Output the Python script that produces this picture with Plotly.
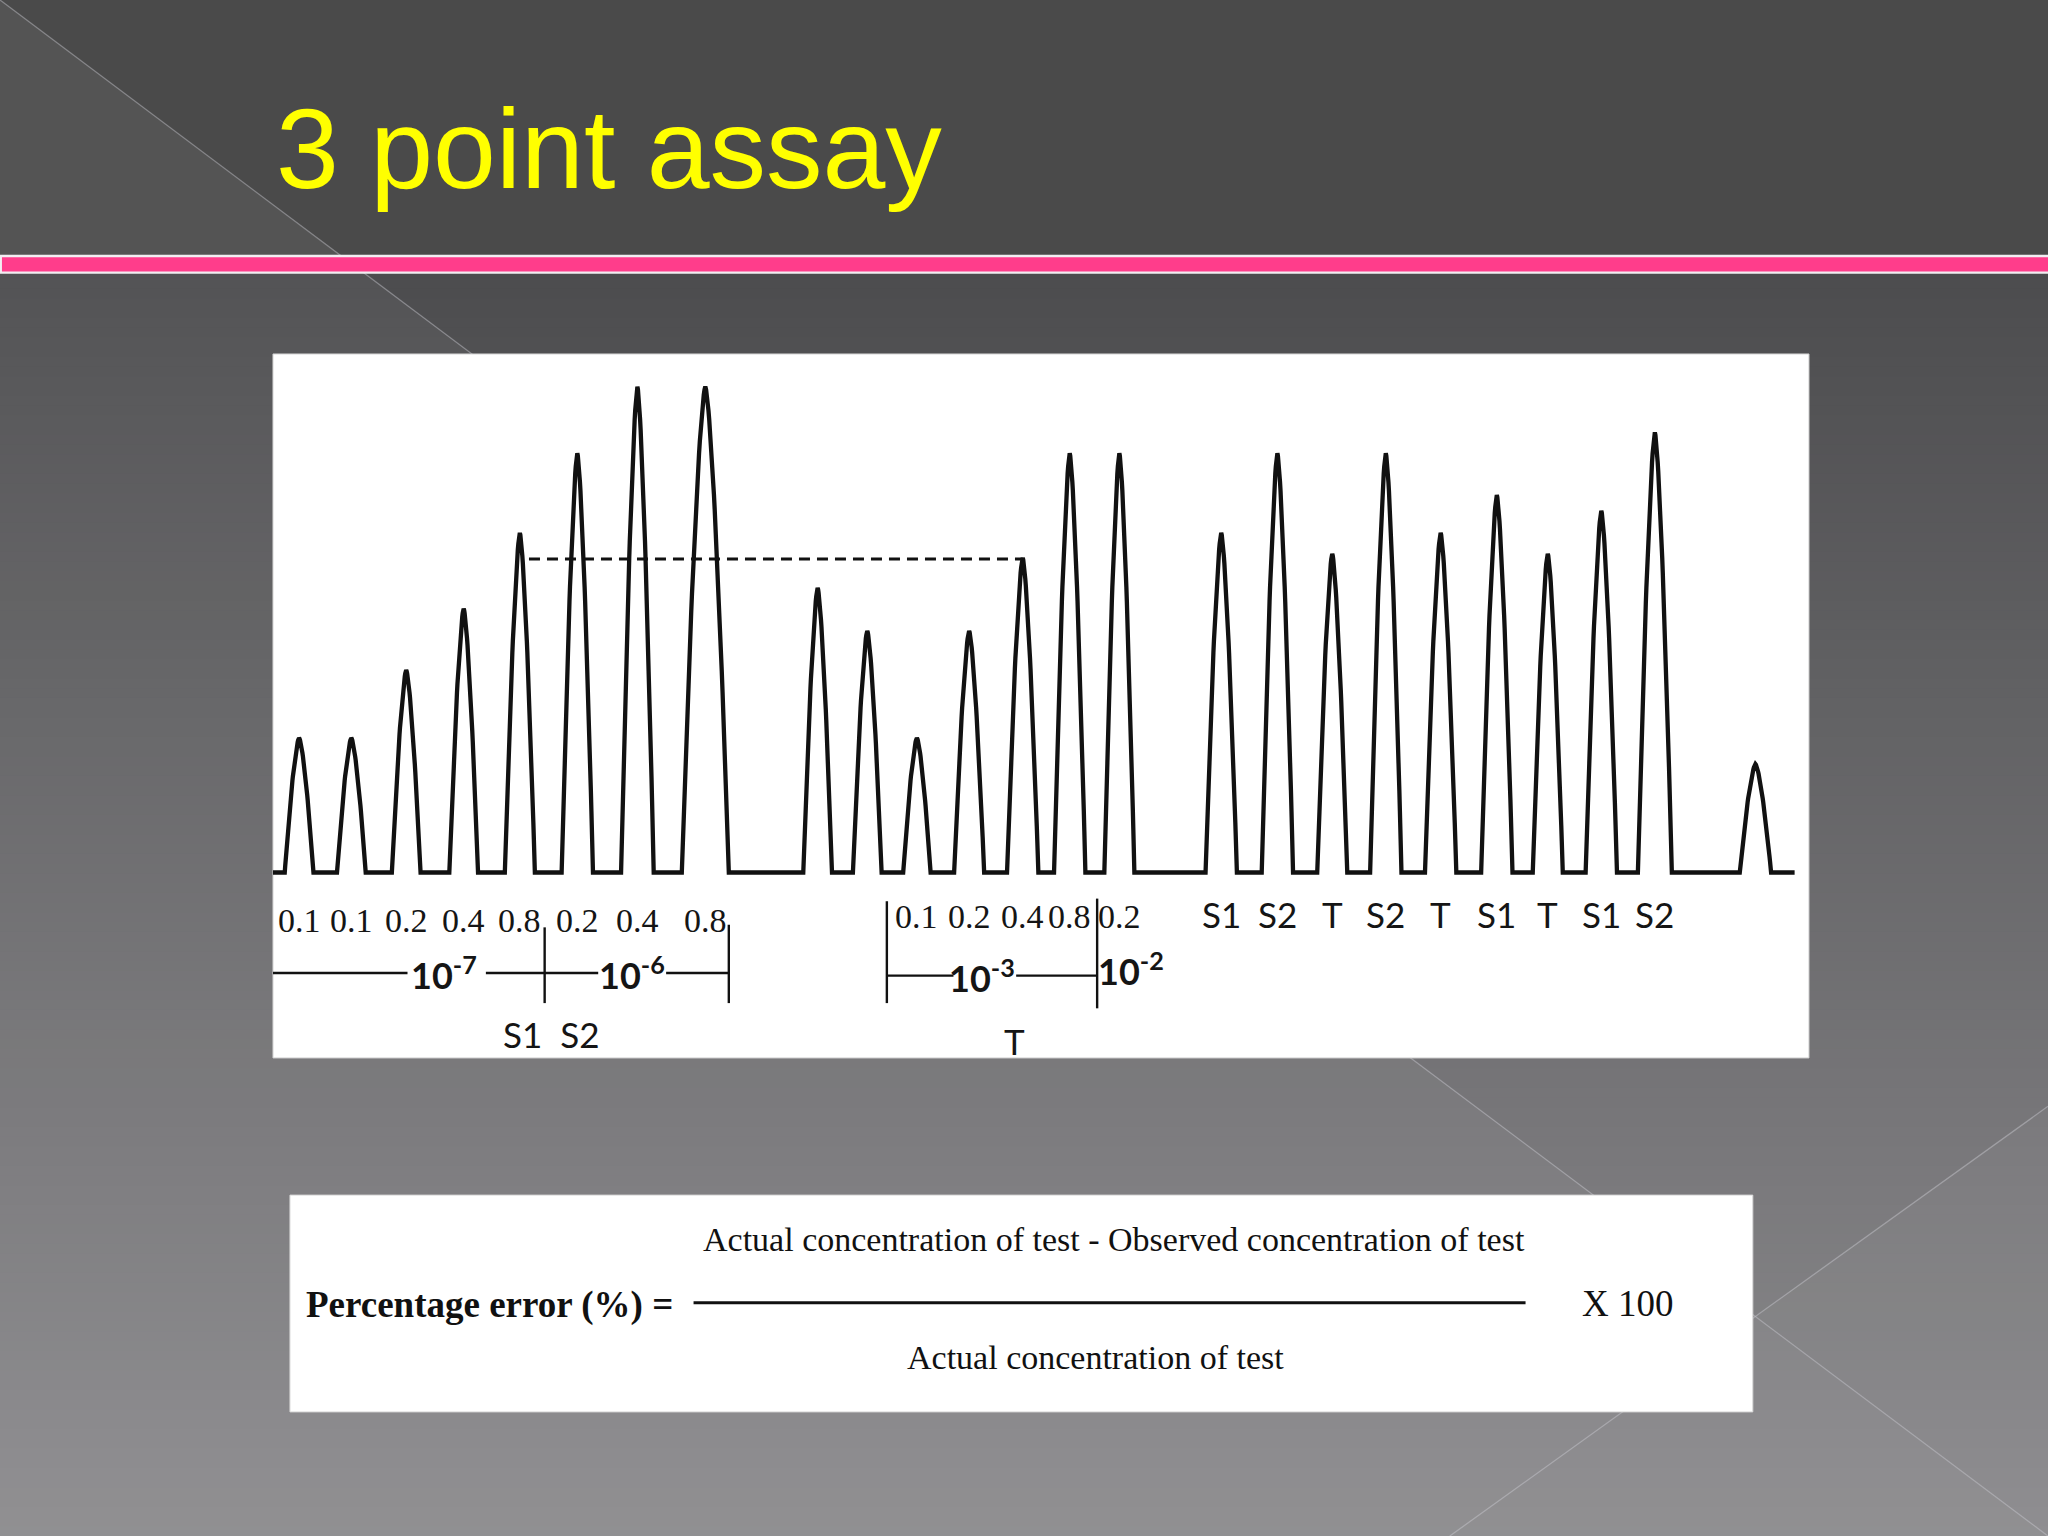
import numpy as np
import plotly.graph_objects as go

W, H = 2048, 1536
VW, VH = 1568.0, 1176.0          # layout grid the slide was measured on

# ---------------- data ----------------
peak_pos = [229, 269, 311, 355, 398, 442, 488, 540,
            626, 664, 702, 742, 783, 819, 857,
            935, 978, 1020, 1061, 1103, 1146, 1185, 1226, 1267, 1344]
peak_height = [103, 103, 155, 202, 260, 321, 372, 372,
               218, 185, 103, 185, 241, 321, 321,
               260, 321, 244, 321, 260, 289, 244, 277, 337, 83]
peak_halfwidth = [11, 11, 11, 11, 11.5, 12, 12.5, 18,
                  11, 11, 10.5, 11.5, 12, 12, 11.5,
                  12, 12, 11.5, 12, 12, 12, 11.5, 12, 13, 12]
peak_labels = ["0.1", "0.1", "0.2", "0.4", "0.8", "0.2", "0.4", "0.8",
               "", "", "0.1", "0.2", "0.4", "0.8", "0.2",
               "S1", "S2", "T", "S2", "T", "S1", "T", "S1", "S2", ""]
trace_start, trace_end = 209, 1374
ref_level, ref_from, ref_to = 240, 405, 783
decade_labels = ["10<sup>-7</sup>", "10<sup>-6</sup>", "10<sup>-3</sup>", "10<sup>-2</sup>"]
decade_pos = [340, 484, 752, 866]
role_labels = ["S1  S2", "T"]
role_pos = [422, 777]

title_text = "3 point assay"
numerator = "Actual concentration of test - Observed concentration of test"
denominator = "Actual concentration of test"
lhs = "Percentage error (%) ="
factor = "X 100"


# ---------------- helpers ----------------
def px(x):
    return x / VW


def py(y):
    return 1 - y / VH


def peak_shape(c, h, hw, n=61):
    u = np.linspace(-1, 1, n)
    p = 1.5
    f = 1 - np.abs(u) ** p
    return c + u * hw, h * f


xs, ys = [trace_start], [0.0]
for c, h, hw in zip(peak_pos, peak_height, peak_halfwidth):
    x_, y_ = peak_shape(c, h, hw)
    xs.extend(x_.tolist())
    ys.extend(y_.tolist())
xs.append(trace_end)
ys.append(0.0)

fig = go.Figure()
fig.add_trace(go.Scatter(x=xs, y=ys, mode="lines",
                         line=dict(color="#111111", width=4.3),
                         hoverinfo="skip", cliponaxis=False))
fig.add_trace(go.Scatter(x=[ref_from, ref_to], y=[ref_level, ref_level], mode="lines",
                         line=dict(color="#111111", width=3.2, dash="11px,7px"),
                         hoverinfo="skip"))

shapes = []

# background: top band
shapes.append(dict(type="rect", xref="paper", yref="paper", x0=0, x1=1, y0=py(196), y1=1,
                   fillcolor="#4a4a4a", line=dict(width=0), layer="below"))
shapes.append(dict(type="path", xref="paper", yref="paper",
                   path=f"M {px(0)},{py(0)} L {px(261)},{py(196)} L {px(0)},{py(196)} Z",
                   fillcolor="#545454", line=dict(width=0), layer="below"))
# background: gradient below the bar
c0 = np.array([0x4c, 0x4c, 0x4e], float)
c1 = np.array([0x8c, 0x8b, 0x8e], float)
y0b, y1b = 206.0, 1176.0
nb = 130
for i in range(nb):
    ya = y0b + (y1b - y0b) * i / nb
    yb = y0b + (y1b - y0b) * (i + 1) / nb + 0.6
    t = (i + 0.5) / nb
    c = (c0 + (c1 - c0) * t).round().astype(int)
    shapes.append(dict(type="rect", xref="paper", yref="paper", x0=0, x1=1,
                       y0=py(min(yb, VH)), y1=py(ya),
                       fillcolor=f"rgb({c[0]},{c[1]},{c[2]})", line=dict(width=0), layer="below"))
# facets
shapes.append(dict(type="path", xref="paper", yref="paper",
                   path=(f"M {px(0)},{py(206)} L {px(206/0.75)},{py(206)} "
                         f"L {px(1568)},{py(1176)} L {px(0)},{py(1176)} Z"),
                   fillcolor="rgba(255,255,255,0.045)", line=dict(width=0), layer="below"))
shapes.append(dict(type="path", xref="paper", yref="paper",
                   path=f"M {px(1344)},{py(1008)} L {px(1568)},{py(847)} L {px(1568)},{py(1176)} Z",
                   fillcolor="rgba(255,255,255,0.03)", line=dict(width=0), layer="below"))
for (xa, ya, xb, yb) in [(0, 0, 1568, 1176), (1568, 847, 1110, 1176)]:
    shapes.append(dict(type="line", xref="paper", yref="paper",
                       x0=px(xa), y0=py(ya), x1=px(xb), y1=py(yb),
                       line=dict(color="rgba(205,205,210,0.45)", width=1.3), layer="below"))
# pink bar
shapes.append(dict(type="rect", xref="paper", yref="paper", x0=0, x1=1, y0=py(209.5), y1=py(195),
                   fillcolor="#f2eef2", line=dict(width=0), layer="below"))
shapes.append(dict(type="rect", xref="paper", yref="paper", x0=px(1.5), x1=1, y0=py(207.8), y1=py(197),
                   fillcolor="#ff3d8b", line=dict(width=0), layer="below"))
# white panels
shapes.append(dict(type="rect", xref="paper", yref="paper", x0=px(209), x1=px(1385), y0=py(810), y1=py(271),
                   fillcolor="#ffffff", line=dict(color="#d0d0d0", width=1), layer="below"))
shapes.append(dict(type="rect", xref="paper", yref="paper", x0=px(222), x1=px(1342), y0=py(1081), y1=py(915),
                   fillcolor="#ffffff", line=dict(color="#d8d8d8", width=1), layer="below"))
# fraction bar
shapes.append(dict(type="line", xref="paper", yref="paper", x0=px(531), x1=px(1168), y0=py(997.5), y1=py(997.5),
                   line=dict(color="#111111", width=3)))


# bracket lines under the chart (data coordinates)
def hseg(a, b, yv):
    shapes.append(dict(type="line", xref="x", yref="y", x0=a, x1=b, y0=yv, y1=yv,
                       line=dict(color="#111111", width=2.4)))


def vseg(xv, a, b):
    shapes.append(dict(type="line", xref="x", yref="y", x0=xv, x1=xv, y0=a, y1=b,
                       line=dict(color="#111111", width=2.4)))


hseg(209, 312, -77); hseg(372, 458, -77); hseg(510, 558, -77)
vseg(417, -42, -100); vseg(558, -40, -100)
hseg(679, 730, -79); hseg(778, 840, -79)
vseg(679, -22, -100); vseg(840, -20, -104)

ann = []
# title
ann.append(dict(text=title_text, xref="paper", yref="paper", x=px(210), y=py(114),
                xanchor="left", yanchor="middle", showarrow=False,
                font=dict(family="Liberation Sans, Arial, sans-serif", size=113, color="#ffff00")))
# peak labels
for c, lab in zip(peak_pos, peak_labels):
    if not lab:
        continue
    if lab.startswith("0"):
        yv = -37 if c < 600 else -34
        f = dict(family="Liberation Serif, Times New Roman, serif", size=34, color="#151515")
    else:
        yv = -32
        f = dict(family="Lato, Calibri, sans-serif", size=35, color="#151515")
    ann.append(dict(text=lab, xref="x", yref="y", x=c, y=yv, showarrow=False,
                    xanchor="center", yanchor="middle", font=f))
for i, (lab, xv) in enumerate(zip(decade_labels, decade_pos)):
    yv = -74 if i == 3 else (-79 if i == 2 else -77)
    ann.append(dict(text=lab, xref="x", yref="y", x=xv, y=yv, showarrow=False,
                    xanchor="center", yanchor="middle",
                    font=dict(family="Lato, Calibri, sans-serif", size=36, color="#151515", weight="bold")))
for lab, xv, yv in zip(role_labels, role_pos, [-124, -129]):
    ann.append(dict(text=lab, xref="x", yref="y", x=xv, y=yv, showarrow=False,
                    xanchor="center", yanchor="middle",
                    font=dict(family="Lato, Calibri, sans-serif", size=35, color="#151515")))
# formula
serif = "Liberation Serif, Times New Roman, serif"
ann.append(dict(text=numerator, xref="paper", yref="paper", x=px(853), y=py(949), showarrow=False,
                xanchor="center", yanchor="middle", font=dict(family=serif, size=34, color="#111111")))
ann.append(dict(text=denominator, xref="paper", yref="paper", x=px(839), y=py(1039), showarrow=False,
                xanchor="center", yanchor="middle", font=dict(family=serif, size=34, color="#111111")))
ann.append(dict(text="<b>" + lhs + "</b>", xref="paper", yref="paper", x=px(233), y=py(999), showarrow=False,
                xanchor="left", yanchor="middle", font=dict(family=serif, size=37, color="#111111")))
ann.append(dict(text=factor, xref="paper", yref="paper", x=px(1210), y=py(998), showarrow=False,
                xanchor="left", yanchor="middle", font=dict(family=serif, size=37, color="#111111")))

fig.update_layout(
    width=W, height=H, margin=dict(l=0, r=0, t=0, b=0),
    paper_bgcolor="#4a4a4a", plot_bgcolor="rgba(0,0,0,0)",
    showlegend=False, shapes=shapes, annotations=ann,
    xaxis=dict(domain=[px(209), px(1385)], range=[209, 1385], visible=False, fixedrange=True),
    yaxis=dict(domain=[py(810), py(271)], range=[-142, 397], visible=False, fixedrange=True),
)
fig.write_html("out.html", config={"displayModeBar": False},
               post_script="document.body.style.margin='0';document.body.style.padding='0';")
